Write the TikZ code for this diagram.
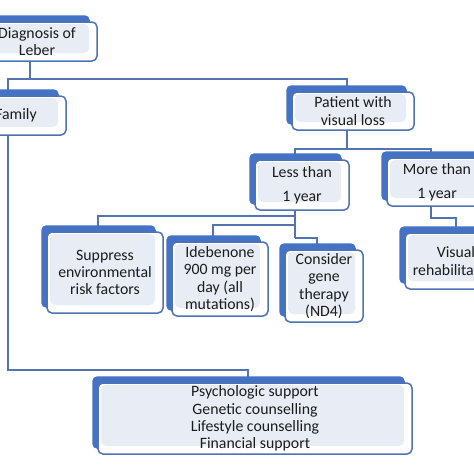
\documentclass[tikz,border=0pt]{standalone}
\usepackage{fontspec}
\setmainfont{Carlito}
\usetikzlibrary{backgrounds}
\definecolor{cardline}{HTML}{4F72B3}
\definecolor{cardback}{HTML}{4472C4}
\definecolor{cardfill}{HTML}{E7ECF5}
\definecolor{linkline}{HTML}{5374B0}
\definecolor{cardtext}{HTML}{1C1C1C}
\begin{document}
\begin{tikzpicture}[
      x = 1pt, y = -1pt,
      card/.style = {
        draw = cardline, line width = 1.5pt, fill = white,
        rounded corners = 5pt, inner sep = 0pt, align = center,
        text = cardtext, font = \fontsize{15.8}{17.3}\selectfont,
        path picture = {
          \fill[cardfill]
            ([shift={(3pt,-2pt)}]path picture bounding box.north west)
            rectangle ([shift={(-8pt,8pt)}]path picture bounding box.south east);
        }
      },
      link/.style = {draw = linkline, line width = 1.3pt}
    ]
      \useasboundingbox (0,0) rectangle (474,474);
      \clip (0,0) rectangle (474,474);
      % boxes
      \node[card, minimum width=120pt, minimum height=39pt] (diag) at (37,41.5) {Diagnosis of\\Leber};
      \node[card, minimum width=100pt, minimum height=39pt] (family) at (16,115.5) {Family};
      \node[card, minimum width=122pt, minimum height=38pt] (patient) at (353,111) {Patient with\\visual loss};
      \node[card, minimum width=94pt, minimum height=50pt] (less) at (302,185) {Less than\\[6.5pt]1 year};
      \node[card, minimum width=100pt, minimum height=48pt] (more) at (437,182) {More than\\[6.5pt]1 year};
      \node[card, minimum width=116pt, minimum height=81pt] (suppress) at (105,272.5) {Suppress\\environmental\\risk factors};
      \node[card, minimum width=96pt, minimum height=74pt] (idebenone) at (220,279) {Idebenone\\900 mg per\\day (all\\mutations)};
      \node[card, minimum width=78pt, minimum height=72pt] (consider) at (324,286) {Consider\\gene\\therapy\\(ND4)};
      \node[card, minimum width=102pt, minimum height=56pt] (visual) at (456,261) {Visual\\rehabilitation};
      \node[card, minimum width=314pt, minimum height=71pt] (support) at (255,418.5) {Psychologic support\\Genetic counselling\\Lifestyle counselling\\Financial support};
      % branch points
      \coordinate (dsplit) at (30,79);
      \coordinate (famx) at (8,79);
      \coordinate (patx) at (347,79);
      \coordinate (psplit) at (347,149);
      \coordinate (lessx) at (295,149);
      \coordinate (morex) at (431,149);
      \coordinate (l1) at (295,216);
      \coordinate (l2) at (295,225);
      \coordinate (l3) at (295,238);
      \coordinate (c1) at (98,216);
      \coordinate (c2) at (213,225);
      \coordinate (c3) at (317,238);
      \coordinate (m1) at (431,218);
      \coordinate (m2) at (456,218);
      \coordinate (f1) at (8,370);
      \coordinate (f2) at (248,370);
      \begin{scope}[on background layer]
        \fill[white] (0,0) rectangle (474,474);
        \draw[link] (diag.south -| dsplit) -- (dsplit) -- (famx) -- (famx |- family.north);
        \draw[link] (dsplit) -- (patx) -- (patx |- patient.north);
        \draw[link] (patient.south -| psplit) -- (psplit);
        \draw[link] (lessx |- less.north) -- (lessx) -- (morex) -- (morex |- more.north);
        \draw[link] (less.south -| l3) -- (l3);
        \foreach \from/\to/\card in {l1/c1/suppress, l2/c2/idebenone, l3/c3/consider}
          \draw[link] (\from) -- (\to) -- (\to |- \card.north);
        \draw[link] (more.south -| m1) -- (m1) -- (m2) -- (m2 |- visual.north);
        \draw[link] (family.south -| f1) -- (f1) -- (f2) -- (f2 |- support.north);
        % blue backs
        \foreach \card in {diag, family, patient, less, more, suppress, idebenone, consider, visual, support}
          \fill[cardback, rounded corners=5pt] ([shift={(-5pt,6pt)}]\card.south west) rectangle ([shift={(-8pt,6pt)}]\card.north east);
      \end{scope}
    \end{tikzpicture}
\end{document}
